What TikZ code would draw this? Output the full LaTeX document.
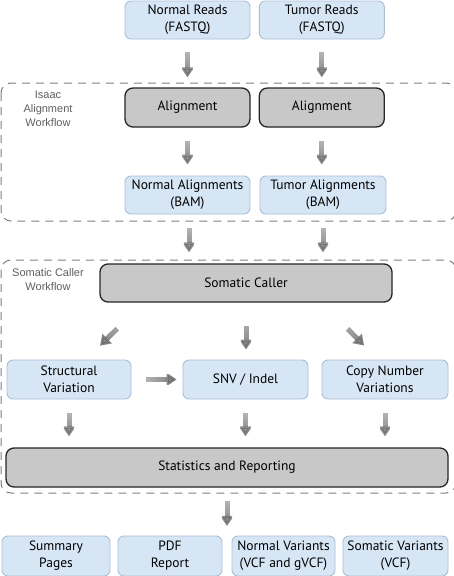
\documentclass[tikz,border=0pt]{standalone}
\usepackage{fontspec}
\setmainfont{PT Sans}
\newfontfamily\labfont{Liberation Sans}
\usetikzlibrary{arrows.meta,fadings,calc}
\definecolor{bluefill}{HTML}{D6E6F5}
\definecolor{blueline}{HTML}{A9BFD6}
\definecolor{grayfill}{HTML}{C8C8C8}
\definecolor{grayline}{HTML}{262626}
\definecolor{arrowcol}{HTML}{6A6A6A}
\definecolor{dashcol}{HTML}{7F7F7F}
\definecolor{labcol}{HTML}{5E5E5E}
\tikzfading[name=fadeshaft, top color=transparent!70, bottom color=transparent!0]
\begin{document}
\begin{tikzpicture}[x=1pt,y=-1pt,
  txt/.style={font=\fontsize{13.5}{17}\selectfont, align=center, inner sep=0pt},
  bluebox/.style={txt, draw=blueline, line width=0.9pt, fill=bluefill, rounded corners=6pt},
  graybox/.style={txt, draw=grayline, line width=1.3pt, fill=grayfill, rounded corners=8pt},
  flow/.style={draw=arrowcol, line width=5pt, -{Triangle[width=13pt,length=10pt]}, path fading=fadeshaft, fading angle=#1},
  flow/.default=0,
  region/.style={draw=dashcol, line width=1pt, dash pattern=on 8pt off 6pt, rounded corners=10pt},
  reglabel/.style={font=\labfont\fontsize{11}{14}\selectfont, text=labcol, align=center, inner sep=0pt}
]
\useasboundingbox (0,0) rectangle (454,576);
% regions
\draw[region] (1,83) rectangle (456,221);
\draw[region] (1,260) rectangle (456,493);
\node[reglabel] (lab1) at (48,109) {Isaac\\Alignment\\Workflow};
\node[reglabel] (lab2) at (48,280) {Somatic Caller\\Workflow};
% boxes
\node[bluebox, minimum width=125pt, minimum height=38pt] (nr) at (187.5,20) {Normal Reads\\(FASTQ)};
\node[bluebox, minimum width=125pt, minimum height=38pt] (tr) at (321.8,20) {Tumor Reads\\(FASTQ)};
\node[graybox, minimum width=125pt, minimum height=39pt] (al1) at (187.5,107.5) {Alignment};
\node[graybox, minimum width=125pt, minimum height=39pt] (al2) at (321.8,107.5) {Alignment};
\node[bluebox, minimum width=125pt, minimum height=38pt] (na) at (187.5,195) {Normal Alignments\\(BAM)};
\node[bluebox, minimum width=126pt, minimum height=38pt] (ta) at (323,195) {Tumor Alignments\\(BAM)};
\node[graybox, minimum width=292pt, minimum height=38pt] (sc) at (246,283) {Somatic Caller};
\node[bluebox, minimum width=124pt, minimum height=39pt] (sv) at (69,379.5) {Structural\\Variation};
\node[bluebox, minimum width=125pt, minimum height=39pt] (snv) at (245.5,379.5) {SNV / Indel};
\node[bluebox, minimum width=126pt, minimum height=39pt] (cnv) at (385,379.5) {Copy Number\\Variations};
\node[graybox, minimum width=442pt, minimum height=39pt] (st) at (227,467.5) {Statistics and Reporting};
\node[bluebox, minimum width=108pt, minimum height=40pt] (sp) at (56,556) {Summary\\Pages};
\node[bluebox, minimum width=104pt, minimum height=40pt] (pdf) at (170,556) {PDF\\Report};
\node[bluebox, minimum width=103pt, minimum height=40pt] (nv) at (283.5,556) {Normal Variants\\(VCF and gVCF)};
\node[bluebox, minimum width=105pt, minimum height=40pt] (smv) at (395.5,556) {Somatic Variants\\(VCF)};
\coordinate (out) at (227,536);
% arrows
\draw[flow, shorten <=13pt, shorten >=10pt] (nr.south) -- (al1.north);
\draw[flow, shorten <=13pt, shorten >=10pt] (tr.south) -- (al2.north);
\draw[flow, shorten <=13pt, shorten >=11pt] (al1.south) -- (na.south |- na.north);
\draw[flow, shorten <=13pt, shorten >=11pt] (al2.south) -- (al2.south |- ta.north);
\draw[flow, shorten <=14pt, shorten >=11pt] ($(na.south)+(1.5,0)$) -- ($(na.south |- sc.north)+(1.5,0)$);
\draw[flow, shorten <=14pt, shorten >=11pt] (ta.south) -- (ta.south |- sc.north);
\draw[flow=-45, shorten <=36.8pt, shorten >=19.8pt] ($(sc.south west)+(44,0)$) -- ($(sv.north)+(17,0)$);
\draw[flow, shorten <=23pt, shorten >=10pt] (sc.south) -- (sc.south |- snv.north);
\draw[flow=45, shorten <=36.8pt, shorten >=19.8pt] ($(sc.south east)+(-71,0)$) -- ($(cnv.north)+(-7,0)$);
\draw[flow=90, shorten <=15pt, shorten >=6pt] (sv.east) -- (snv.west);
\draw[flow, shorten <=14pt, shorten >=11pt] (sv.south) -- (sv.south |- st.north);
\draw[flow, shorten <=14pt, shorten >=11pt] (snv.south) -- (snv.south |- st.north);
\draw[flow, shorten <=14pt, shorten >=11pt] (cnv.south) -- (cnv.south |- st.north);
\draw[flow, shorten <=13pt, shorten >=10pt] (st.south) -- (out);
\end{tikzpicture}
\end{document}
